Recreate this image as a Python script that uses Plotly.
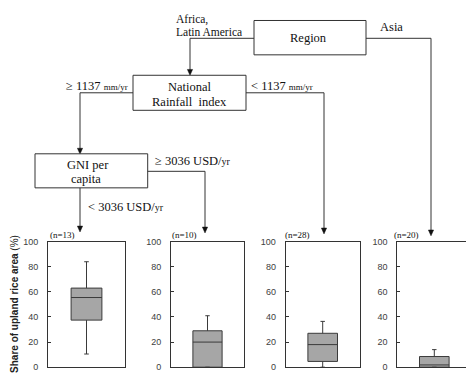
import plotly.graph_objects as go

# The page body keeps the browser's default 8px margin, so the figure is drawn
# 8px smaller and every page position is shifted by that margin.
OFF = 8
W, H = 474 - OFF, 379 - OFF

# ---- data ----
groups = ["n=13", "n=10", "n=28", "n=20"]
n_labels = ["(n=13)", "(n=10)", "(n=28)", "(n=20)"]
q1 = [37.5, 0.0, 4.6, 0.0]
median = [55.5, 20.0, 18.0, 1.8]
q3 = [63.0, 29.0, 27.0, 8.5]
lowerfence = [10.5, 0.0, 0.0, 0.0]
upperfence = [84.0, 41.0, 36.5, 14.0]
y_ticks = [0, 20, 40, 60, 80, 100]

SERIF = "Liberation Serif, Times New Roman, serif"
SANS = "Liberation Sans, Arial, sans-serif"
LINE = "#333333"

def px(x):
    return (x - OFF) / W

def py(y):
    return 1 - (y - OFF) / H

# panel pixel extents (left, right), top, bottom
panels = [(48, 125), (171, 244), (285.7, 359.7), (397.3, 471.3)]
ptop, pbot = 243, 372

fig = go.Figure()
for i in range(4):
    ax = "" if i == 0 else str(i + 1)
    fig.add_trace(go.Box(
        x=[0], q1=[q1[i]], median=[median[i]], q3=[q3[i]],
        lowerfence=[lowerfence[i]], upperfence=[upperfence[i]],
        width=0.4, whiskerwidth=0.15,
        fillcolor="#a6a6a6", line=dict(color="#3a3a3a", width=1),
        xaxis="x" + ax, yaxis="y" + ax, showlegend=False, name=groups[i],
        hoverinfo="skip",
    ))
    l, r = panels[i]
    fig.layout["xaxis" + ax] = dict(
        domain=[px(l), px(r)], range=[-0.5, 0.5], anchor="y" + ax,
        showticklabels=False, ticks="", showgrid=False, zeroline=False,
        showline=True, mirror=True, linecolor=LINE, linewidth=1,
    )
    fig.layout["yaxis" + ax] = dict(
        domain=[py(pbot), py(ptop)], range=[0, 100], anchor="x" + ax,
        tickvals=y_ticks, ticks="inside", ticklen=3, tickcolor=LINE,
        showgrid=False, zeroline=False, showline=True, mirror=True,
        linecolor=LINE, linewidth=1, ticklabelstandoff=7,
        tickfont=dict(family=SANS, size=9, color="#404040"),
    )

shapes = []
def seg(x0, y0, x1, y1):
    shapes.append(dict(type="line", xref="paper", yref="paper",
                       x0=px(x0), y0=py(y0), x1=px(x1), y1=py(y1),
                       line=dict(color=LINE, width=1)))

def rect(x0, y0, x1, y1):
    shapes.append(dict(type="rect", xref="paper", yref="paper",
                       x0=px(x0), y0=py(y0), x1=px(x1), y1=py(y1),
                       line=dict(color=LINE, width=1), fillcolor="white"))

def arrow(x, y):
    # downward filled triangle with tip at (x, y)
    path = "M {} {} L {} {} L {} {} Z".format(
        px(x), py(y), px(x - 2.6), py(y - 6), px(x + 2.6), py(y - 6))
    shapes.append(dict(type="path", xref="paper", yref="paper", path=path,
                       fillcolor="#111111", line=dict(color="#111111", width=0.5)))

# Region
rect(254, 15.7, 366, 51)
seg(254, 34, 190, 34); seg(190, 34, 190, 70); arrow(190, 72)
seg(366, 34, 431, 34); seg(431, 34, 431, 234); arrow(431, 237)
# National rainfall index
rect(133, 72, 246, 108)
seg(133, 90, 80, 90); seg(80, 90, 80, 151); arrow(80, 153)
seg(246, 90, 324, 90); seg(324, 90, 324, 232); arrow(324, 235)
# GNI per capita
rect(35, 152.7, 147.7, 187.7)
seg(147.7, 170.7, 205, 170.7); seg(205, 170.7, 205, 231); arrow(205, 234)
seg(80, 187.7, 80, 230); arrow(80, 233)

fig.update_layout(shapes=shapes)

ann = []
def text(t, x, y, size=12.5, xanchor="left", family=SERIF, color="#111111", angle=0):
    ann.append(dict(text=t, x=px(x), y=py(y), xref="paper", yref="paper",
                    xanchor=xanchor, yanchor="middle", showarrow=False,
                    textangle=angle,
                    font=dict(family=family, size=size, color=color)))

small = '<span style="font-size:9px">{}</span>'
text("Africa,", 174, 14.6, size=11.5)
text("Latin America", 174, 27.4, size=11.5)
text("Region", 308, 34, xanchor="center")
text("Asia", 377.7, 22)
text("≥ 1137 " + small.format("mm/yr"), 64, 83)
text("National", 189.5, 84, xanchor="center")
text("Rainfall  index", 189.5, 99, xanchor="center")
text("< 1137 " + small.format("mm/yr"), 249, 83)
text("GNI per", 88, 164, xanchor="center")
text("capita", 86, 179, xanchor="center")
text("≥ 3036 USD/" + '<span style="font-size:10px">yr</span>', 153, 160)
text("< 3036 USD/" + '<span style="font-size:10px">yr</span>', 86, 207)
for i, lx in enumerate([48, 170, 283, 392]):
    text(n_labels[i], lx, 236, size=9)
text("<b>Share of upland rice area</b> (%)", 14.5, 307.5, size=10,
     xanchor="center", family=SANS, color="#222222", angle=-90)
fig.update_layout(annotations=ann)

fig.update_layout(width=W, height=H, margin=dict(l=0, r=0, t=0, b=0),
                  paper_bgcolor="white", plot_bgcolor="white")
fig.write_html("out.html")
